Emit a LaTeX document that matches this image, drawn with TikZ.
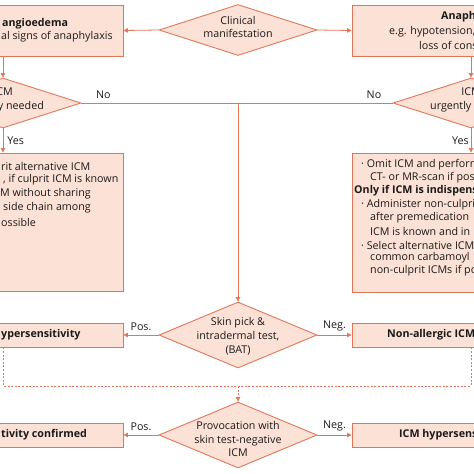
\documentclass[tikz,border=0pt]{standalone}
\usepackage{fontspec}
\setmainfont{Open Sans}
\usetikzlibrary{shapes.geometric,arrows.meta,positioning}
\definecolor{edge}{HTML}{E3765A}
\definecolor{peach}{HTML}{FCE2D6}
\definecolor{ink}{HTML}{1A1A1A}

\begin{document}
\begin{tikzpicture}[x=1pt,y=-1pt,font=\fontsize{10.7}{13.8}\selectfont,text=ink,
  box/.style={draw=edge,fill=peach,line width=0.9pt,inner sep=0pt},
  dia/.style={diamond,draw=edge,fill=peach,line width=0.9pt,inner sep=0pt,
              minimum width=158pt},
  txt/.style={inner sep=0pt,align=center},
  lft/.style={inner sep=0pt,anchor=west},
  lbl/.style={inner sep=0pt,text=ink},
  arr/.style={-{Triangle[length=4.5pt,width=4.5pt]},draw=edge,line width=0.8pt},
  ln/.style={draw=edge,line width=0.8pt},
  dsh/.style={draw=edge,line width=0.8pt,dash pattern=on 2pt off 1.6pt}]

\useasboundingbox (0,0) rectangle (474,474);
\clip (0,0) rectangle (474,474);

% top row
\node[dia,minimum height=51pt] (clin) at (238,30) {};
\node[box,minimum width=183pt,minimum height=51pt] (mild) at (31.5,30.5) {};
\node[box,minimum width=208pt,minimum height=51pt] (anaph) at (456,30.5) {};
\node[txt] at (238,27) {Clinical\\manifestation};
\node[lft] at (2,24) {\textbf{angioedema}};
\node[lft] at (1,37) {al signs of anaphylaxis};
\node[lft] at (441,17) {\textbf{Anaphylaxis}};
\node[lft] at (389,32) {e.g. hypotension,};
\node[lft] at (419,45) {loss of consciousness};

% decisions
\node[dia,minimum width=156pt,minimum height=50pt] (lq) at (3,103) {};
\node[dia,minimum width=156pt,minimum height=50pt] (rq) at (471,103) {};
\node[txt] at (3,100) {ICM\\urgently needed};
\node[txt] at (471,100) {ICM\\urgently needed};

% management boxes
\node[box,minimum width=263pt,minimum height=138pt] (lbox) at (-8.5,222) {};
\node[box,minimum width=248pt,minimum height=139pt] (rbox) at (476,222.5) {};
\node[lft] at (1,166) {rit alternative ICM};
\node[lft] at (3,180) {, if culprit ICM is known};
\node[lft] at (0,194) {M without sharing};
\node[lft] at (3,208) {side chain among};
\node[lft] at (1,222) {ossible};
\node[lft] at (361,165) {\textperiodcentered\ Omit ICM and perform};
\node[lft] at (370,178) {CT- or MR-scan if possible};
\node[lft] at (354,191) {\textbf{Only if ICM is indispensable}};
\node[lft] at (361,205) {\textperiodcentered\ Administer non-culprit};
\node[lft] at (370,218) {after premedication};
\node[lft] at (370,231) {ICM is known and in};
\node[lft] at (361,245) {\textperiodcentered\ Select alternative ICM};
\node[lft] at (370,258) {common carbamoyl};
\node[lft] at (370,271) {non-culprit ICMs if possible};

% testing
\node[dia,minimum height=66pt] (skin) at (238,335) {};
\node[txt] at (238,336) {Skin pick \&\\intradermal test,\\(BAT)};
\node[box,minimum width=223pt,minimum height=24pt] (hyp) at (11.5,335) {};
\node[box,minimum width=248pt,minimum height=24pt] (nonall) at (476,335) {};
\node[lft] at (1,335) {\textbf{ypersensitivity}};
\node[lft] at (387,335) {\textbf{Non-allergic ICM}};

\node[dia,minimum height=66pt] (prov) at (238,435) {};
\node[txt] at (238,439) {Provocation with\\skin test-negative\\ICM};
\node[box,minimum width=223pt,minimum height=24pt] (conf) at (11.5,435) {};
\node[box,minimum width=248pt,minimum height=24pt] (icmh) at (476,435) {};
\node[lft] at (1,435) {\textbf{tivity confirmed}};
\node[lft] at (399,435) {\textbf{ICM hypersensitivity}};

\coordinate (dj) at (238,386);

% connectors
\draw[arr] (clin.west) -- (mild.east);
\draw[arr] (clin.east) -- (anaph.west);
\draw[arr] (mild.south-|lq.north) -- (lq.north);
\draw[arr] (anaph.south-|rq.north) -- (rq.north);
\draw[arr] (lq.south) -- node[lbl,right=4pt]{Yes} (lbox.north-|lq.south);
\draw[arr] (rq.south) -- node[lbl,left=2pt]{Yes} (rbox.north-|rq.south);
\draw[arr] (lq.east) -- node[lbl,pos=0.14,above=4pt]{No} (lq.east-|skin.north) -- (skin.north);
\draw[ln] (rq.west) -- node[lbl,pos=0.12,above=4pt]{No} (rq.west-|skin.north);
\draw[arr] (skin.west) -- node[lbl,above=4pt]{Pos.} (hyp.east);
\draw[arr] (skin.east) -- node[lbl,above=4pt]{Neg.} (nonall.west);
\draw[dsh] (hyp.south-|lq.south) |- (dj);
\draw[dsh] (nonall.south-|rq.south) |- (dj);
\draw[dsh,arr] (dj) -- (prov.north);
\draw[arr] (prov.west) -- node[lbl,above=4pt]{Pos.} (conf.east);
\draw[arr] (prov.east) -- node[lbl,above=4pt]{Neg.} (icmh.west);
\end{tikzpicture}
\end{document}
